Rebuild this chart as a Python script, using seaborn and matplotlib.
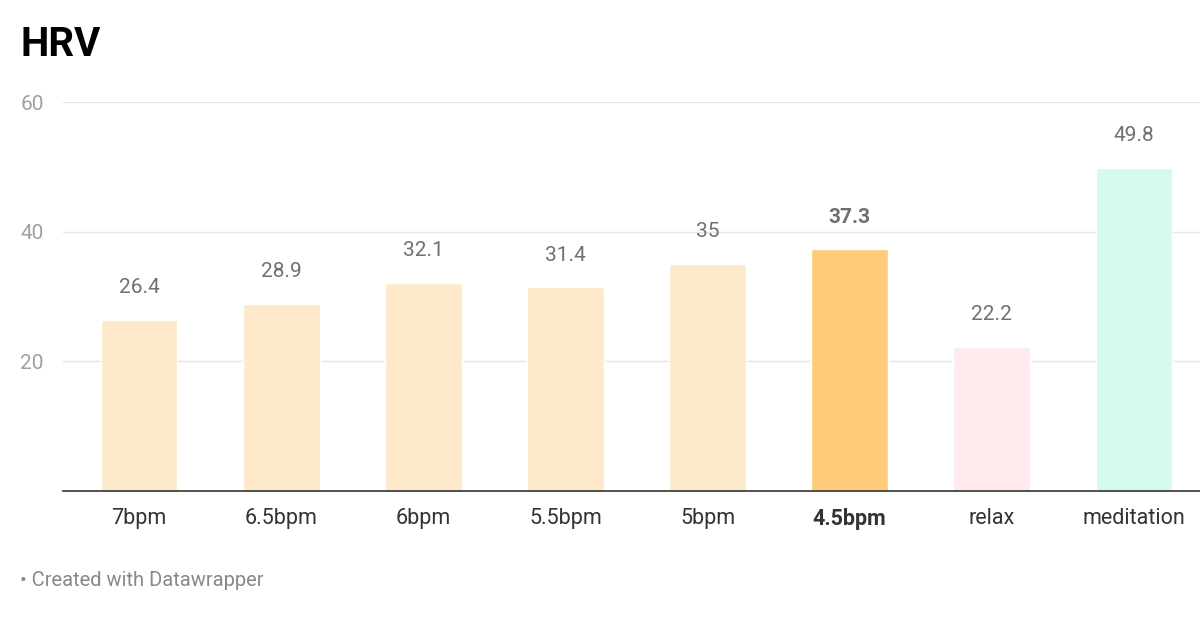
import matplotlib
matplotlib.use('Agg')
import matplotlib.pyplot as plt
import seaborn as sns
import pandas as pd

categories = ['7bpm', '6.5bpm', '6bpm', '5.5bpm', '5bpm', '4.5bpm', 'relax', 'meditation']
values = [26.4, 28.9, 32.1, 31.4, 35, 37.3, 22.2, 49.8]
labels = ['26.4', '28.9', '32.1', '31.4', '35', '37.3', '22.2', '49.8']
colors = ['#fee9cb'] * 5 + ['#fecb7b', '#ffebee', '#d5faeb']

sns.set_style('white')
plt.rcParams['font.family'] = ['Roboto', 'DejaVu Sans']

df = pd.DataFrame({'cat': categories, 'val': values})
fig = plt.figure(figsize=(12, 6.3), dpi=100)
ax = fig.add_axes([0.0525, 0.2206, 0.9475, 0.6174])
sns.barplot(data=df, x='cat', y='val', hue='cat', palette=colors, width=0.54,
            legend=False, ax=ax, saturation=1)
ax.set_xlim(-0.535, 7.465)
ax.set_ylim(0, 60)
ax.set_yticks([20, 40, 60])
ax.yaxis.grid(True, color='#e4e4e4', linewidth=1)
ax.set_axisbelow(True)
for s in ['top', 'right', 'left']:
    ax.spines[s].set_visible(False)
ax.spines['bottom'].set_color('#333333')
ax.spines['bottom'].set_linewidth(1.2)
ax.tick_params(axis='y', length=0, labelsize=15, labelcolor='#a0a0a0', pad=12)
ax.tick_params(axis='x', length=0, labelsize=15.5, labelcolor='#333333', pad=12)
for lab in ax.get_yticklabels():
    lab.set_horizontalalignment('left')
    lab.set_x(-0.023)
ax.set_xlabel('')
ax.set_ylabel('')
for i, t in enumerate(ax.get_xticklabels()):
    if categories[i] == '4.5bpm':
        t.set_fontweight('bold')
for i, (v, l) in enumerate(zip(values, labels)):
    ax.text(i, v + 3.5, l, ha='center', va='bottom', fontsize=15,
            color='#707070', fontweight='bold' if i == 5 else 'normal')

fig.text(0.017, 0.928, 'HRV', fontsize=29, fontweight='bold', color='#000000', va='center')
fig.text(0.017, 0.079, '• Created with Datawrapper', fontsize=14.5, color='#888888', va='center')
fig.savefig('out.png', dpi=100)
